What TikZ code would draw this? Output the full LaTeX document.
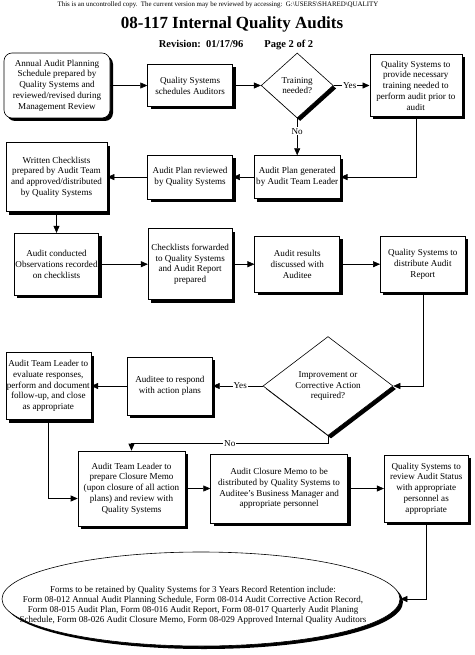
\documentclass[tikz,border=0pt]{standalone}
\usepackage{fontspec}
\setmainfont{Liberation Serif}
\usetikzlibrary{shapes.geometric, positioning, arrows.meta, shadows}

\begin{document}
\begin{tikzpicture}[x=1pt, y=-1pt,
  font=\fontsize{9.1}{10.8}\selectfont,
  box/.style={draw, fill=white, align=center, inner sep=1pt, line width=0.6pt,
    drop shadow={shadow xshift=3pt, shadow yshift=-3pt, fill=black, opacity=1}},
  decision/.style={box, diamond},
  flow/.style={-{Triangle[length=7pt,width=6pt]}, line width=0.6pt},
  answer/.style={fill=white, inner sep=1pt}]
\useasboundingbox (0,0) rectangle (474,655);
% heading
\node[font=\fontsize{6.9}{8}\selectfont] (note) at (218,5) {This is an uncontrolled copy.\ \ The current version may be reviewed by accessing:\ \ G:\textbackslash USERS\textbackslash SHARED\textbackslash QUALITY};
\node[font=\bfseries\fontsize{17}{20}\selectfont] (title) at (232,24) {08-117 Internal Quality Audits};
\node[font=\bfseries\fontsize{10.5}{12}\selectfont] (rev) at (236,45) {Revision:\ \ 01/17/96\qquad Page 2 of 2};
% planning
\node[box, rounded corners=8pt, minimum width=106pt, minimum height=65pt] (annual) at (57,85.5) {Annual Audit Planning\\Schedule prepared by\\Quality Systems and\\reviewed/revised during\\Management Review};
\node[box, minimum width=85pt, minimum height=42pt] (sched) [right=37pt of annual] {Quality Systems\\schedules Auditors};
\node[decision, minimum width=72pt, minimum height=65pt] (train) [right=28pt of sched] {Training\\needed?};
\node[box, minimum width=92pt, minimum height=62pt] (provide) [right=36pt of train] {Quality Systems to\\provide necessary\\training needed to\\perform audit prior to\\audit};
\node[box, minimum width=86pt, minimum height=43pt] (plangen) [below=37pt of train] {Audit Plan generated\\by Audit Team Leader};
\node[box, minimum width=85pt, minimum height=44pt] (planrev) [left=21pt of plangen] {Audit Plan reviewed\\by Quality Systems};
\node[box, minimum width=101pt, minimum height=69pt] (written) [left=40pt of planrev] {Written Checklists\\prepared by Audit Team\\and approved/distributed\\by Quality Systems};
% audit
\node[box, minimum width=84pt, minimum height=62pt] (conducted) [below=21pt of written] {Audit conducted\\Observations recorded\\on checklists};
\node[box, minimum width=84pt, minimum height=71pt] (forwarded) [right=49pt of conducted] {Checklists forwarded\\to Quality Systems\\and Audit Report\\prepared};
\node[box, minimum width=85pt, minimum height=56pt] (results) [right=22pt of forwarded] {Audit results\\discussed with\\Auditee};
\node[box, minimum width=85pt, minimum height=56pt] (distrib) [right=40pt of results] {Quality Systems to\\distribute Audit\\Report};
% follow-up
\node[decision, minimum width=130pt, minimum height=84pt] (improve) at (328,386) {Improvement or\\Corrective Action\\required?};
\node[box, minimum width=85pt, minimum height=58pt] (respond) [left=50pt of improve] {Auditee to respond\\with action plans};
\node[box, minimum width=85pt, minimum height=67pt] (evaluate) [left=36pt of respond] {Audit Team Leader to\\evaluate responses,\\perform and document\\follow-up, and close\\as appropriate};
% closure
\node[box, minimum width=107pt, minimum height=75pt] (prepare) at (131.5,488.5) {Audit Team Leader to\\prepare Closure Memo\\(upon closure of all action\\plans) and review with\\Quality Systems};
\node[box, minimum width=137pt, minimum height=69pt] (memo) [right=25pt of prepare] {Audit Closure Memo to be\\distributed by Quality Systems to\\Auditee's Business Manager and\\appropriate personnel};
\node[box, minimum width=84pt, minimum height=67pt] (review) [right=36pt of memo] {Quality Systems to\\review Audit Status\\with appropriate\\personnel as\\appropriate};
\node[box, ellipse, minimum width=398pt, minimum height=94pt] (forms) at (201,599) {};
\node[align=center, font=\fontsize{9}{10}\selectfont] (formstext) [xshift=-8pt, yshift=-6pt] at (forms.center) {Forms to be retained by Quality Systems for 3 Years Record Retention include:\\Form 08-012 Annual Audit Planning Schedule, Form 08-014 Audit Corrective Action Record,\\Form 08-015 Audit Plan, Form 08-016 Audit Report, Form 08-017 Quarterly Audit Planing\\Schedule, Form 08-026 Audit Closure Memo, Form 08-029 Approved Internal Quality Auditors};
% connectors
\draw[flow] (annual.east |- sched.west) -- (sched.west);
\draw[flow] (sched) -- (train);
\draw[flow] (train) -- node[answer, pos=0.45]{Yes} (provide);
\draw[flow] (train) -- node[answer, pos=0.35]{No} (plangen);
\draw[flow] (provide.south) |- (plangen.east);
\draw[flow] (plangen) -- (planrev);
\draw[flow] (planrev) -- (written);
\draw[flow] (written) -- (conducted);
\draw[flow] (conducted) -- (conducted -| forwarded.west);
\draw[flow] (forwarded) -- (results);
\draw[flow] (results) -- (distrib);
\draw[flow] (distrib.south) |- (improve.east);
\draw[flow] (improve) -- node[answer, pos=0.45]{Yes} (respond);
\draw[flow] (respond) -- (evaluate);
\draw[flow] (improve.south) -- ++(0,8) -| node[answer, pos=0.25]{No} (prepare.north);
\draw[flow] (evaluate.south) |- ([yshift=-10pt]prepare.west);
\draw[flow] (prepare) -- (memo);
\draw[flow] (memo) -- (review);
\draw[flow] (review.south) |- (forms.east);
\end{tikzpicture}
\end{document}
